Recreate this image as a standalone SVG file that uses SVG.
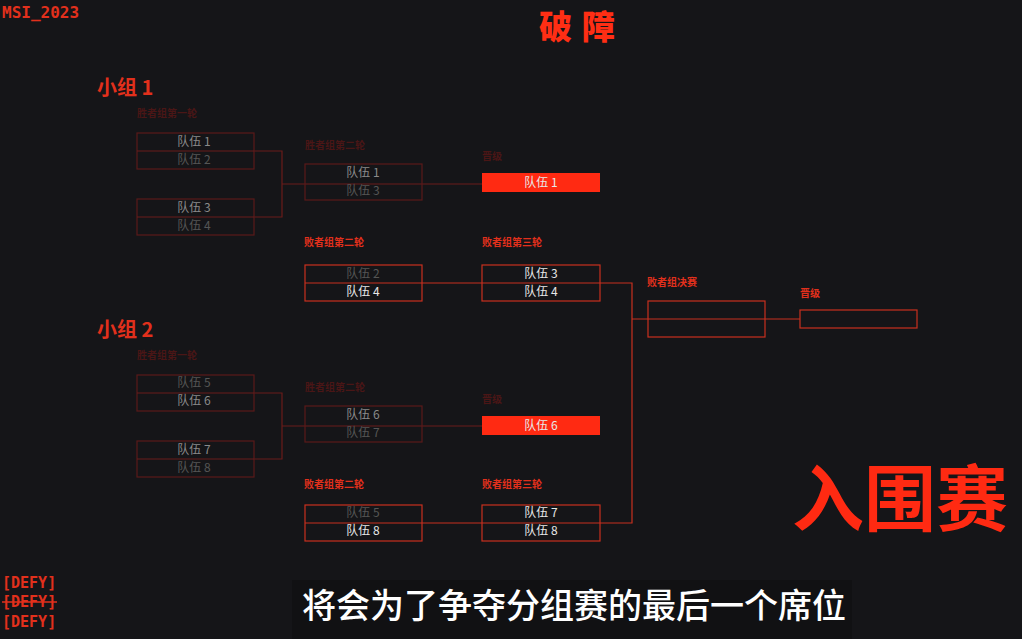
<svg xmlns="http://www.w3.org/2000/svg" width="1022" height="639" viewBox="0 0 1022 639">
<style>
.bg{fill:#151518}
.cn{font-family:"Noto Sans CJK SC","Noto Sans",sans-serif}
.lbl{font-size:10px;font-weight:bold;fill:#e2301c}
.dlbl{font-size:10px;font-weight:bold;fill:#4a1616}
.grp{font-size:20px;font-weight:bold;fill:#e2301c}
.box{fill:none;stroke:#c8301f;stroke-width:1.2}
.dbox{fill:none;stroke:#5a1a1a;stroke-width:1.2}
.fill{fill:#ff2a12}
.t{font-size:12px;text-anchor:middle;font-family:"Noto Sans CJK SC","Noto Sans",sans-serif}
.tw{fill:#e8e8e8}
.tg{fill:#8a8a8a}
.td{fill:#555555}
.line{fill:none;stroke:#c8301f;stroke-width:1.2}
.dline{fill:none;stroke:#6a1c1a;stroke-width:1.2}
.mono{font-family:"DejaVu Sans Mono","Liberation Mono",monospace;font-weight:bold;fill:#e2301c}
</style>
<rect class="bg" x="0" y="0" width="1022" height="639"/>

<text class="mono" x="2" y="18" font-size="16">MSI_2023</text>
<text class="cn" x="582" y="39" font-size="33" font-weight="900" fill="#ff2e14" text-anchor="middle" letter-spacing="10">破障</text>

<g id="connectors">
  <path class="dline" d="M254,151 H282 V217 H254 M282,184 H482"/>
  <path class="dline" d="M254,393 H282 V459 H254 M282,426 H482"/>
  <path class="line" d="M422,283 H482 M600,283 H632 V523 H600 M422,523 H482 M632,319 H648 M765,319 H800"/>
</g>

<g id="group1">
  <text class="cn grp" x="97" y="95">小组 1</text>
  <text class="cn dlbl" x="137" y="117">胜者组第一轮</text>
</g>
<g id="g1-r1-a">
  <rect class="dbox" x="137" y="133" width="117" height="36"/>
  <line class="dline" x1="137" y1="151" x2="254" y2="151"/>
  <text class="t tg" x="194" y="146">队伍 1</text>
  <text class="t td" x="194" y="164">队伍 2</text>
</g>
<g id="g1-r1-b">
  <rect class="dbox" x="137" y="199" width="117" height="36"/>
  <line class="dline" x1="137" y1="217" x2="254" y2="217"/>
  <text class="t tg" x="194" y="212">队伍 3</text>
  <text class="t td" x="194" y="230">队伍 4</text>
</g>
<g id="g1-r2">
  <text class="cn dlbl" x="305" y="149">胜者组第二轮</text>
  <rect class="dbox" x="305" y="164" width="117" height="36"/>
  <text class="t tg" x="363" y="177">队伍 1</text>
  <text class="t td" x="363" y="195">队伍 3</text>
</g>
<g id="g1-qual">
  <text class="cn dlbl" x="482" y="160">晋级</text>
  <rect class="fill" x="482" y="173" width="118" height="19"/>
  <text class="t tw" x="541" y="187">队伍 1</text>
</g>
<g id="g1-lr2">
  <text class="cn lbl" x="304" y="246">败者组第二轮</text>
  <rect class="box" x="305" y="265" width="117" height="36"/>
  <line class="line" x1="305" y1="283" x2="422" y2="283"/>
  <text class="t td" x="363" y="278">队伍 2</text>
  <text class="t tw" x="363" y="296">队伍 4</text>
</g>
<g id="g1-lr3">
  <text class="cn lbl" x="482" y="246">败者组第三轮</text>
  <rect class="box" x="482" y="265" width="118" height="36"/>
  <line class="line" x1="482" y1="283" x2="600" y2="283"/>
  <text class="t tw" x="541" y="278">队伍 3</text>
  <text class="t tw" x="541" y="296">队伍 4</text>
</g>

<g id="group2">
  <text class="cn grp" x="97" y="337">小组 2</text>
  <text class="cn dlbl" x="137" y="359">胜者组第一轮</text>
</g>
<g id="g2-r1-a">
  <rect class="dbox" x="137" y="375" width="117" height="36"/>
  <line class="dline" x1="137" y1="393" x2="254" y2="393"/>
  <text class="t td" x="194" y="387">队伍 5</text>
  <text class="t tg" x="194" y="405">队伍 6</text>
</g>
<g id="g2-r1-b">
  <rect class="dbox" x="137" y="441" width="117" height="36"/>
  <line class="dline" x1="137" y1="459" x2="254" y2="459"/>
  <text class="t tg" x="194" y="454">队伍 7</text>
  <text class="t td" x="194" y="472">队伍 8</text>
</g>
<g id="g2-r2">
  <text class="cn dlbl" x="305" y="391">胜者组第二轮</text>
  <rect class="dbox" x="305" y="406" width="117" height="36"/>
  <text class="t tg" x="363" y="419">队伍 6</text>
  <text class="t td" x="363" y="437">队伍 7</text>
</g>
<g id="g2-qual">
  <text class="cn dlbl" x="482" y="403">晋级</text>
  <rect class="fill" x="482" y="416" width="118" height="19"/>
  <text class="t tw" x="541" y="430">队伍 6</text>
</g>
<g id="g2-lr2">
  <text class="cn lbl" x="304" y="488">败者组第二轮</text>
  <rect class="box" x="305" y="505" width="117" height="36"/>
  <line class="line" x1="305" y1="523" x2="422" y2="523"/>
  <text class="t td" x="363" y="517">队伍 5</text>
  <text class="t tw" x="363" y="535">队伍 8</text>
</g>
<g id="g2-lr3">
  <text class="cn lbl" x="482" y="488">败者组第三轮</text>
  <rect class="box" x="482" y="505" width="118" height="36"/>
  <line class="line" x1="482" y1="523" x2="600" y2="523"/>
  <text class="t tw" x="541" y="517">队伍 7</text>
  <text class="t tw" x="541" y="535">队伍 8</text>
</g>

<g id="lfinal">
  <text class="cn lbl" x="647" y="286">败者组决赛</text>
  <rect class="box" x="648" y="301" width="117" height="36"/>
  <line class="line" x1="648" y1="319" x2="765" y2="319"/>
</g>
<g id="final-qual">
  <text class="cn lbl" x="800" y="297">晋级</text>
  <rect class="box" x="800" y="310" width="117" height="18"/>
</g>

<text class="cn" x="900" y="525" font-size="72" font-weight="bold" fill="#ff2a12" text-anchor="middle">入围赛</text>

<rect x="292" y="580" width="560" height="59" fill="#111113"/>
<text class="cn" x="574" y="618" font-size="34" font-weight="500" fill="#ffffff" text-anchor="middle">将会为了争夺分组赛的最后一个席位</text>

<text class="mono" x="2" y="588" font-size="15">[DEFY]</text>
<text class="mono" x="2" y="607" font-size="15">[DEFY]</text>
<line x1="2" y1="602" x2="57" y2="602" stroke="#e2301c" stroke-width="1.5"/>
<text class="mono" x="2" y="627" font-size="15">[DEFY]</text>
</svg>
